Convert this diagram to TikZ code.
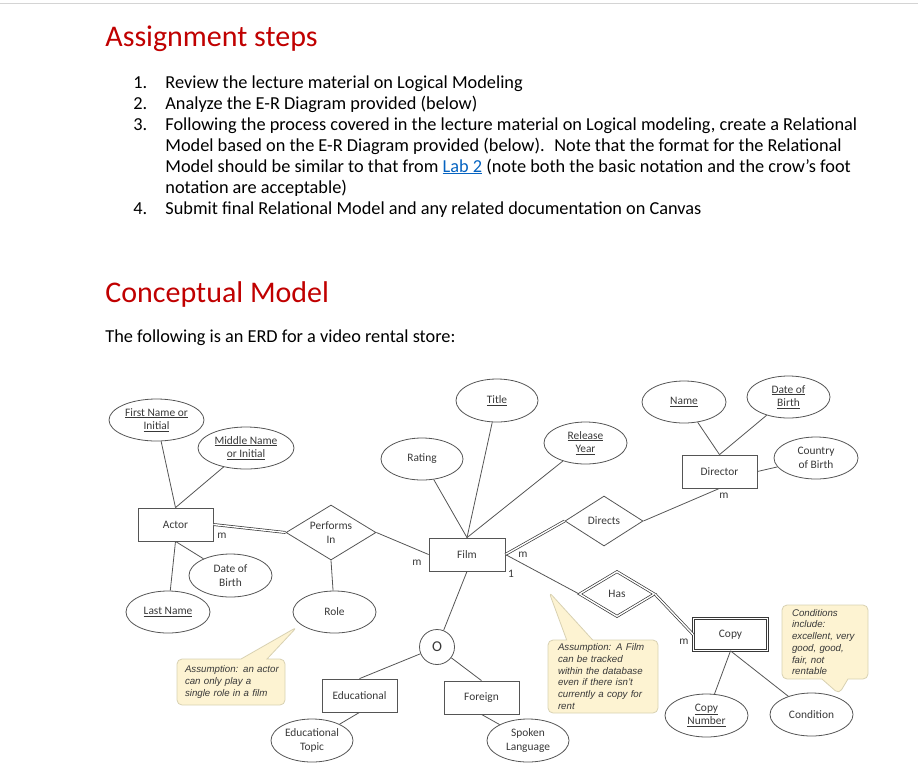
\documentclass[tikz,border=0pt]{standalone}
\usepackage{fontspec}
\setmainfont{Carlito}
\newfontfamily\notefont{Liberation Sans}
\usetikzlibrary{shapes.geometric,shapes.callouts,arrows.meta}
\definecolor{headred}{HTML}{C00000}
\definecolor{linkblue}{HTML}{0563C1}
\definecolor{inkgray}{HTML}{383838}
\definecolor{edgegray}{HTML}{555555}
\definecolor{notefill}{HTML}{FDF3D2}
\definecolor{noteline}{HTML}{D8D1B2}
\definecolor{rulegray}{HTML}{D4D4D4}

\tikzset{
  heading/.style={anchor=base west, inner sep=0pt, text=headred, font=\fontsize{30}{36}\selectfont},
  body/.style={anchor=base west, inner sep=0pt, font=\fontsize{18.3}{21}\selectfont},
  erdfont/.style={text=inkgray, font=\fontsize{11.4}{13.5}\selectfont},
  attr/.style={ellipse, draw=edgegray, erdfont, minimum width=83pt, minimum height=42pt, inner sep=0pt, align=center},
  ent/.style={rectangle, draw=edgegray, erdfont, minimum width=75pt, minimum height=33pt, inner sep=0pt},
  rel/.style={diamond, aspect=1.6, draw=edgegray, erdfont, inner sep=0pt, align=center},
  wkent/.style={ent, draw=inkgray, double, double distance=1.4pt, line width=0.7pt},
  wkrel/.style={rel, draw=inkgray, double, double distance=1.4pt, line width=0.7pt},
  dbl/.style={draw=inkgray, double, double distance=1.4pt, line width=0.7pt},
  card/.style={erdfont, inner sep=0pt},
  note/.style={rectangle callout, draw=noteline, fill=notefill, rounded corners=5pt,
    callout pointer width=26pt, align=left, inner xsep=0pt, inner ysep=2pt, text=inkgray,
    font=\notefont\itshape\fontsize{9.7}{11.7}\selectfont}
}

\begin{document}
\begin{tikzpicture}[x=1pt, y=-1pt, line width=0.8pt, >=Stealth]
  \useasboundingbox (0,0) rectangle (918,777);
  \draw[rulegray] (0,3) -- (918,3);

  % assignment text
  \node[heading] (steps) at (105,46) {Assignment steps};
  \foreach \n/\y in {1/88,2/109,3/130,4/214}
    \node[body] (num\n) at (133,\y) {\n.};
  \node[body] (line1) at (165,88) {Review the lecture material on Logical Modeling};
  \node[body] (line2) at (165,109) {Analyze the E-R Diagram provided (below)};
  \node[body] (line3) at (165,130) {Following the process covered in the lecture material on Logical modeling, create a Relational};
  \node[body] (line4) at (165,151) {Model based on the E-R Diagram provided (below).~ Note that the format for the Relational};
  \node[body] (line5) at (165,172) {Model should be similar to that from \textcolor{linkblue}{\underline{Lab 2}} (note both the basic notation and the crow’s foot};
  \node[body] (line6) at (165,193) {notation are acceptable)};
  \node[body] (line7) at (165,214) {Submit final Relational Model and any related documentation on Canvas};

  \node[heading] (concept) at (105,302) {Conceptual Model};
  \node[body] (intro) at (105,342) {The following is an ERD for a video rental store:};

  % entities and relationships
  \node[ent] (actor) at (175.5,524.5) {Actor};
  \node[ent, minimum width=76pt] (film) at (467,554.5) {Film};
  \node[ent] (director) at (719.5,471.5) {Director};
  \node[wkent, minimum width=74pt, minimum height=32pt] (copy) at (730.5,634.5) {Copy};
  \node[ent] (edu) at (359.5,695.5) {Educational};
  \node[ent] (foreign) at (481.5,697.5) {Foreign};
  \node[rel, minimum width=90pt, minimum height=55pt] (perf) at (331,532.5) {Performs\\In};
  \node[rel, minimum width=78pt, minimum height=50pt] (directs) at (604,521) {Directs};
  \node[wkrel, minimum width=75pt, minimum height=45pt] (has) at (617,594) {Has};
  \node[circle, draw=edgegray, minimum size=35pt, inner sep=0pt, text=inkgray,
        font=\fontsize{15}{15}\selectfont] (ocirc) at (437,647) {O};

  % attributes
  \node[attr, minimum width=95pt] (fname) at (156.5,420) {\underline{First Name or}\\\underline{Initial}};
  \node[attr, minimum width=96pt] (mname) at (246,448) {\underline{Middle Name}\\\underline{or Initial}};
  \node[attr, minimum height=43pt] (adob) at (230.5,575.5) {Date of\\Birth};
  \node[attr, minimum width=84pt] (lname) at (168,612) {\underline{Last Name}};
  \node[attr] (role) at (334.5,612) {Role};
  \node[attr, minimum width=82pt] (rating) at (422,459) {Rating};
  \node[attr, minimum width=82pt, minimum height=43pt] (title) at (497,400.5) {\underline{Title}};
  \node[attr] (ryear) at (585.5,443) {\underline{Release}\\\underline{Year}};
  \node[attr, minimum width=84pt] (dname) at (684,402) {\underline{Name}};
  \node[attr] (ddob) at (788.5,397) {\underline{Date of}\\\underline{Birth}};
  \node[attr, minimum width=84pt] (cob) at (816,458) {Country\\of Birth};
  \node[attr, minimum height=43pt] (cnum) at (706.5,715.5) {\underline{Copy}\\\underline{Number}};
  \node[attr, minimum height=43pt] (cond) at (811.5,714.5) {Condition};
  \node[attr, minimum width=82pt, minimum height=43pt] (etopic) at (312,740.5) {Educational\\Topic};
  \node[attr, minimum width=82pt, minimum height=43pt] (spoken) at (528,740.5) {Spoken\\Language};

  % connectors
  \draw[edgegray] (actor.north) -- (fname);
  \draw[edgegray] (actor.north) -- (mname);
  \draw[edgegray] (actor.south) -- (lname);
  \draw[edgegray] (actor.south) -- (adob);
  \draw[dbl] (actor.east) -- (perf.west);
  \draw[edgegray] (perf.east) -- (film.west);
  \draw[edgegray] (perf.south) -- (role);
  \draw[edgegray] (film.north) -- (rating);
  \draw[edgegray] (film.north) -- (title);
  \draw[edgegray] (film.north) -- (ryear);
  \draw[dbl] (film.east) -- (directs.west);
  \draw[edgegray] (directs.east) -- (director.south);
  \draw[edgegray] (director.north) -- (dname);
  \draw[edgegray] (director.north) -- (ddob);
  \draw[edgegray] (director.east) -- (cob);
  \draw[edgegray] (film.east) -- (has.west);
  \draw[dbl] (has.east) -- (copy.west);
  \draw[edgegray] (copy.south) -- (cnum);
  \draw[edgegray] (copy.south) -- (cond);
  \draw[edgegray] (film.south) -- (ocirc);
  \draw[edgegray] (ocirc) -- (edu.north);
  \draw[edgegray] (ocirc) -- (foreign.north);
  \draw[edgegray] (edu.south) -- (etopic);
  \draw[edgegray] (foreign.south) -- (spoken);

  % cardinalities
  \node[card] (c1) at (222,536) {m};
  \node[card] (c2) at (417,563) {m};
  \node[card] (c3) at (523,555) {m};
  \node[card] (c4) at (511,574) {1};
  \node[card] (c5) at (724,496) {m};
  \node[card] (c6) at (684,642) {m};

  % notes
  \coordinate (atip) at (297,627);
  \coordinate (ftip) at (549,592);
  \coordinate (ctip) at (839,694);
  \node[note, callout absolute pointer={(atip)}, text width=92pt, minimum width=108pt, minimum height=46pt]
    (anote) at (231,682) {\mbox{Assumption: an actor}\\can only play a\\single role in a film};
  \node[note, callout absolute pointer={(ftip)}, text width=90pt, minimum width=110pt, minimum height=73pt]
    (fnote) at (603,676.5) {Assumption: A Film\\can be tracked\\within the database\\even if there isn’t\\currently a copy for\\rent};
  \node[note, callout absolute pointer={(ctip)}, text width=66pt, minimum width=86pt, minimum height=74pt]
    (cnote) at (825,642) {Conditions\\include:\\excellent, very\\good, good,\\fair, not\\rentable};
\end{tikzpicture}
\end{document}
